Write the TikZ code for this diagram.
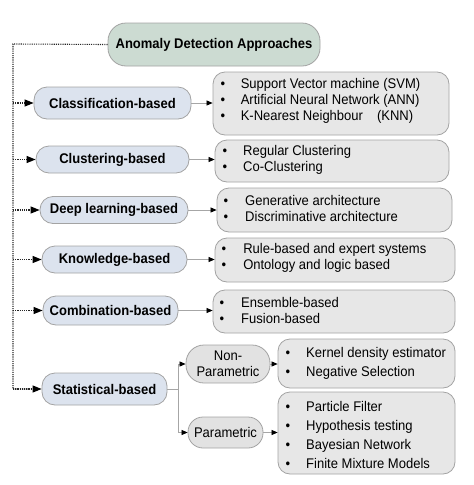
\documentclass[tikz,border=0pt]{standalone}
\usepackage{fontspec}
\setmainfont{Liberation Sans}[FakeStretch=0.93]
\usetikzlibrary{arrows.meta}
\definecolor{topfill}{HTML}{CCDBD2}
\definecolor{catfill}{HTML}{DCE3EE}
\definecolor{listfill}{HTML}{E7E7E7}
\definecolor{subfill}{HTML}{E2E2E2}
\definecolor{edgegray}{HTML}{A3A3A3}
\begin{document}
\begin{tikzpicture}[x=1pt,y=-1pt,
  txt/.style={font=\fontsize{14}{16}\selectfont},
  boldtxt/.style={font=\bfseries\fontsize{14}{16}\selectfont},
  topbox/.style={draw=edgegray, line width=0.8pt, fill=topfill, rounded corners=18pt, inner sep=0pt, boldtxt},
  catbox/.style={draw=edgegray, line width=0.8pt, fill=catfill, rounded corners=13pt, inner sep=0pt, boldtxt},
  listbox/.style={draw=edgegray, line width=0.8pt, fill=listfill, rounded corners=12pt, inner sep=0pt},
  subbox/.style={draw=edgegray, line width=0.8pt, fill=subfill, rounded corners=15pt, inner sep=0pt, txt, align=center},
  listtext/.style={anchor=west, align=left, inner sep=0pt, txt},
  trunk/.style={draw=black!85, line width=1.1pt, dash pattern=on 1.1pt off 1.1pt},
  trunktip/.style={trunk, -{Triangle[length=9pt,width=7pt,color=black]}},
  linkline/.style={draw=black!35, line width=0.7pt},
  link/.style={linkline, -{Triangle[length=6pt,width=5pt,color=black]}}
]
\useasboundingbox (0,0) rectangle (474,485);

% top node
\node[topbox, minimum width=212pt, minimum height=43pt] (top) at (214,44.5) {Anomaly Detection Approaches};

% categories
\node[catbox, minimum width=157pt, minimum height=32pt] (cls) at (112.5,103) {Classification-based};
\node[catbox, minimum width=153pt, minimum height=27pt] (clu) at (112.5,159.5) {Clustering-based};
\node[catbox, minimum width=148pt, minimum height=27pt] (dl) at (114,210) {Deep learning-based};
\node[catbox, minimum width=145pt, minimum height=27pt] (kn) at (114.5,259.5) {Knowledge-based};
\node[catbox, minimum width=135pt, minimum height=29pt] (cmb) at (110.5,310.5) {Combination-based};
\node[catbox, minimum width=125pt, minimum height=32pt] (st) at (104.5,389) {Statistical-based};

% list boxes
\node[listbox, minimum width=236pt, minimum height=63pt] (l1) at (331,103.5) {};
\node[listbox, minimum width=234pt, minimum height=42pt] (l2) at (332,161) {};
\node[listbox, minimum width=235pt, minimum height=44pt] (l3) at (334.5,210) {};
\node[listbox, minimum width=240pt, minimum height=44pt] (l4) at (335,260) {};
\node[listbox, minimum width=242pt, minimum height=43pt] (l5) at (334,311.5) {};

% list texts
\node[listtext] (t1) at (220.5,100.5) {\textbullet\hspace{15.5pt}Support Vector machine (SVM)\\\textbullet\hspace{15.5pt}Artificial Neural Network (ANN)\\\textbullet\hspace{15.5pt}K-Nearest Neighbour\hspace{14pt}(KNN)};
\node[listtext] (t2) at (222.5,159.5) {\textbullet\hspace{16pt}Regular Clustering\\\textbullet\hspace{16pt}Co-Clustering};
\node[listtext] (t3) at (223.5,208.5) {\textbullet\hspace{17pt}Generative architecture\\\textbullet\hspace{17pt}Discriminative architecture};
\node[listtext] (t4) at (221.5,258) {\textbullet\hspace{17pt}Rule-based and expert systems\\\textbullet\hspace{17pt}Ontology and logic based};
\node[listtext] (t5) at (219.5,310) {\textbullet\hspace{17pt}Ensemble-based\\\textbullet\hspace{17pt}Fusion-based};

% statistical sub-nodes
\node[subbox, minimum width=84pt, minimum height=38pt, rounded corners=18pt] (np) at (228,364) {Non-\\Parametric};
\node[subbox, minimum width=75pt, minimum height=31pt] (pa) at (225.5,432.5) {Parametric};
\node[listbox, minimum width=177pt, minimum height=49pt] (lnp) at (366.5,363.5) {};
\node[listbox, minimum width=177pt, minimum height=82pt] (lp) at (366.5,433) {};
\node[listtext, font=\fontsize{14}{19}\selectfont] (tnp) at (285.5,363.5) {\textbullet\hspace{16pt}Kernel density estimator\\\textbullet\hspace{16pt}Negative Selection};
\node[listtext, font=\fontsize{14}{18.7}\selectfont] (tp) at (285.5,435) {\textbullet\hspace{16pt}Particle Filter\\\textbullet\hspace{16pt}Hypothesis testing\\\textbullet\hspace{16pt}Bayesian Network\\\textbullet\hspace{16pt}Finite Mixture Models};

% dotted trunk
\coordinate (tr) at (13,44);
\draw[trunk] (top.west) -- (tr) |- ([xshift=-9pt]st.west);
\draw[trunktip] (tr |- cls.west) -- (cls.west);
\draw[trunktip] (tr |- clu.west) -- (clu.west);
\draw[trunktip] (tr |- dl.west) -- (dl.west);
\draw[trunktip] (tr |- kn.west) -- (kn.west);
\draw[trunktip] (tr |- cmb.west) -- (cmb.west);
\draw[trunktip] (tr |- st.west) -- (st.west);

% links
\draw[link] (cls.east) -- (cls.east -| l1.west);
\draw[link] (clu.east) -- (clu.east -| l2.west);
\draw[link] (dl.east) -- (dl.east -| l3.west);
\draw[link] (kn.east) -- (kn.east -| l4.west);
\draw[link] (cmb.east) -- (cmb.east -| l5.west);

\coordinate (sj) at (178,389);
\draw[linkline] (st.east) -- (sj);
\draw[link] (sj) |- (np.west);
\draw[link] (sj) |- (pa.west);
\draw[link] (np.east) -- (np.east -| lnp.west);
\draw[link] (pa.east) -- (pa.east -| lp.west);
\end{tikzpicture}
\end{document}
